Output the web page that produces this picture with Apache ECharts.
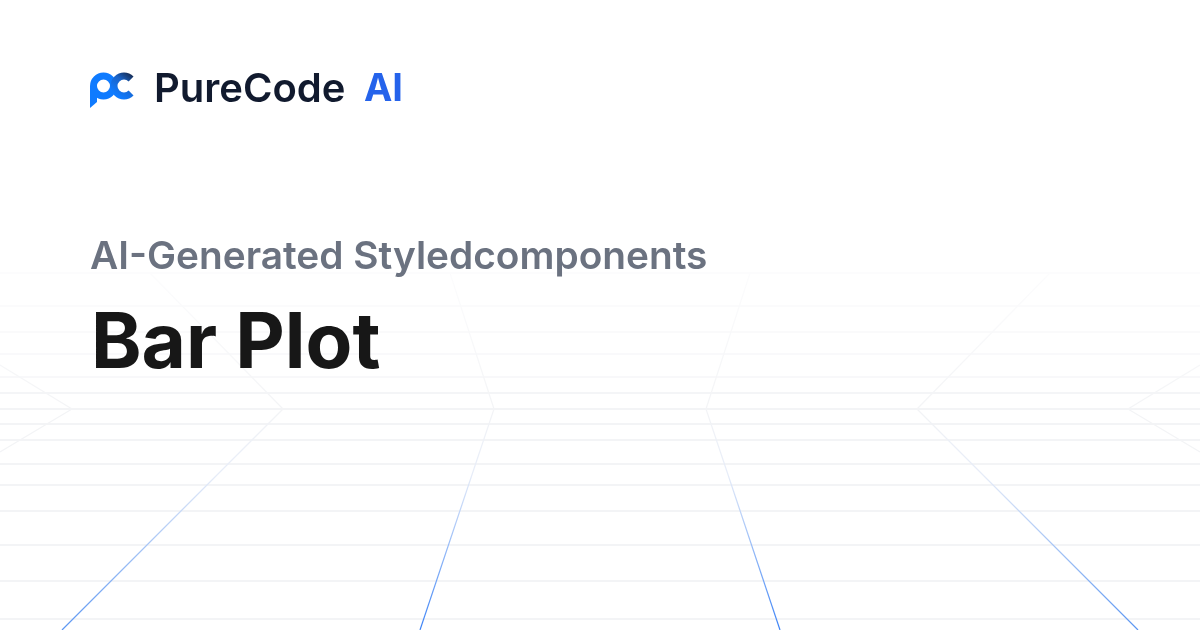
<!DOCTYPE html>
<html><head><meta charset="utf-8">
<style>html,body{margin:0;padding:0;background:#fff}#c{width:1200px;height:630px}</style>
<script src="https://cdn.jsdelivr.net/npm/echarts@6/dist/echarts.min.js"></script>
</head><body><div id="c"></div>
<script>
var brand = ["PureCode", "AI"];
var subtitle = "AI-Generated Styledcomponents";
var heading = "Bar Plot";
var rungs = [273, 306, 332, 354, 377, 393, 409, 424, 440, 464, 485, 511, 545, 581, 619];
var kinkX = [72, 283, 494, 706, 917, 1128];
var horizon = 409;
var lowerEnds = [[0, 452], [62, 630], [420, 630], [780, 630], [1138, 630], [1200, 452]];
var upperEnds = [[0, 365], [150, 273], [450, 273], [750, 273], [1050, 273], [1200, 365]];

var series = [];
rungs.forEach(function (y) {
  var a = y >= 409 ? 1 : 0.25 + (y - 273) / 136 * 0.75;
  series.push({ type: 'line', silent: true, symbol: 'none', z: 1,
    data: [[0, y], [1200, y]],
    lineStyle: { color: '#f3f4f6', width: y >= 393 ? 2 : 1.5, opacity: a } });
});
kinkX.forEach(function (x, i) {
  var strong = i > 0 && i < 5;
  var diag = i === 1 || i === 4;
  series.push({ type: 'line', silent: true, symbol: 'none', z: 2,
    data: [[x, horizon], upperEnds[i]],
    lineStyle: { width: 1.2, color: { type: 'linear', global: true, x: 0, y: 273, x2: 0, y2: 409, colorStops: [
      { offset: 0, color: '#fcfcfd' }, { offset: 1, color: '#f3f4f6' }] } } });
  series.push({ type: 'line', silent: true, symbol: 'none', z: 2,
    data: [[x, horizon], lowerEnds[i]],
    lineStyle: { width: 1.2, color: strong ? { type: 'linear', global: true, x: 0, y: 409, x2: 0, y2: 630, colorStops: [
      { offset: 0, color: '#f3f4f6' }, { offset: 0.3, color: '#e6ecf8' },
      { offset: 1, color: diag ? '#5b96f2' : '#3b82f6' }] } : '#f3f4f6' } });
});

function txt(x, y, s, size, weight, fill) {
  return { type: 'text', x: x, y: y, z: 10, style: { text: s, fill: fill,
    font: weight + ' ' + size + 'px Inter', textBaseline: 'top' } };
}
var cGrad = { type: 'linear', global: true, x: 118, y: 96, x2: 134, y2: 74, colorStops: [
  { offset: 0, color: '#0f7bff' }, { offset: 0.55, color: '#1a63c8' }, { offset: 1, color: '#16233f' }] };

var chart = echarts.init(document.getElementById('c'), null, { renderer: 'canvas' });
chart.setOption({
  animation: false,
  backgroundColor: '#ffffff',
  grid: { left: 0, right: 0, top: 0, bottom: 0 },
  xAxis: { type: 'value', min: 0, max: 1200, show: false },
  yAxis: { type: 'value', min: 0, max: 630, inverse: true, show: false },
  series: series,
  graphic: [
    { type: 'arc', z: 10, shape: { cx: 103.5, cy: 86, r: 10, startAngle: 0, endAngle: Math.PI * 2 },
      style: { stroke: '#0f7bff', fill: null, lineWidth: 7 } },
    { type: 'polygon', z: 10, shape: { points: [[90, 86], [97, 86], [97, 102], [90, 108]] },
      style: { fill: '#0f7bff' } },
    { type: 'arc', z: 10, shape: { cx: 124, cy: 86, r: 10, startAngle: Math.PI * 0.25, endAngle: -Math.PI * 0.25, clockwise: true },
      style: { stroke: cGrad, fill: null, lineWidth: 7 } },
    txt(154, 69.5, brand[0], 40, 600, '#111a2e'),
    txt(364, 71, brand[1], 38, 700, '#2563eb'),
    txt(90, 238, subtitle, 38.8, 600, '#6b7280'),
    txt(91, 306, heading, 76.5, 700, '#171717')
  ]
});
</script></body></html>
